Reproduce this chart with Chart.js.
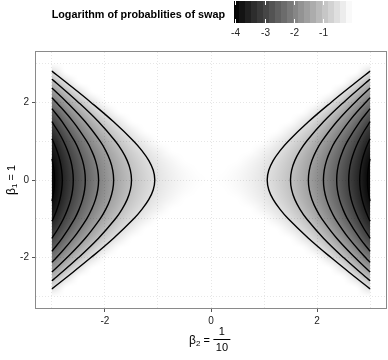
<!DOCTYPE html>
<html>
<head>
<meta charset="utf-8">
<script src="https://cdn.jsdelivr.net/npm/chart.js@4.4.0/dist/chart.umd.min.js"></script>
<style>
  html, body { margin: 0; padding: 0; background: #fff; }
</style>
</head>
<body>
<canvas id="chart" width="388" height="360"></canvas>
<script>
// axes
const xTicks = [-2, 0, 2];
const yTicks = [-2, 0, 2];
const gridLines = [-3, -2, -1, 0, 1, 2, 3];
const legendTicks = [-4, -3, -2, -1];
const shadeRange = [-4.05, 0];

// contour levels, each given as the right half-branch (y >= 0)
const contourLevels = [-0.5, -1, -1.5, -2, -2.5, -3, -3.5, -4];
const contourHalves = [
  [[1.060, 0], [1.089, 0.25], [1.172, 0.5], [1.299, 0.75], [1.457, 1], [1.837, 1.5], [2.264, 2], [2.716, 2.5], [3, 2.806]],
  [[1.499, 0], [1.520, 0.25], [1.580, 0.5], [1.676, 0.75], [1.802, 1], [2.121, 1.5], [2.499, 2], [2.915, 2.5], [3, 2.599]],
  [[1.836, 0], [1.853, 0.25], [1.903, 0.5], [1.983, 0.75], [2.091, 1], [2.371, 1.5], [2.715, 2], [3, 2.373]],
  [[2.120, 0], [2.135, 0.25], [2.178, 0.5], [2.249, 0.75], [2.344, 1], [2.597, 1.5], [2.914, 2], [3, 2.123]],
  [[2.370, 0], [2.383, 0.25], [2.422, 0.5], [2.486, 0.75], [2.573, 1], [2.805, 1.5], [3, 1.839]],
  [[2.597, 0], [2.609, 0.25], [2.644, 0.5], [2.703, 0.75], [2.782, 1], [2.882, 1.25], [3, 1.503]],
  [[2.804, 0], [2.816, 0.25], [2.849, 0.5], [2.903, 0.75], [2.977, 1], [3, 1.065]],
  [[2.950, 0], [2.960, 0.25], [2.992, 0.5], [3, 0.548]]
];

// log swap probability, one quadrant: rows y = 0..3, cols x = 0..3 (step 0.25)
const gridNodes = [0, 0.25, 0.5, 0.75, 1, 1.25, 1.5, 1.75, 2, 2.25, 2.5, 2.75, 3];
const logSwap = [
  [0, -0.03, -0.11, -0.25, -0.45, -0.70, -1.00, -1.36, -1.78, -2.25, -2.78, -3.37, -4.01],
  [0, 0, -0.08, -0.22, -0.42, -0.67, -0.97, -1.33, -1.75, -2.22, -2.75, -3.34, -3.98],
  [0, 0, 0, -0.14, -0.34, -0.59, -0.89, -1.25, -1.67, -2.14, -2.67, -3.26, -3.90],
  [0, 0, 0, 0, -0.20, -0.45, -0.75, -1.11, -1.53, -2.00, -2.53, -3.12, -3.76],
  [0, 0, 0, 0, 0, -0.25, -0.55, -0.91, -1.33, -1.80, -2.33, -2.92, -3.56],
  [0, 0, 0, 0, 0, 0, -0.30, -0.66, -1.08, -1.55, -2.08, -2.67, -3.31],
  [0, 0, 0, 0, 0, 0, 0, -0.36, -0.78, -1.25, -1.78, -2.37, -3.01],
  [0, 0, 0, 0, 0, 0, 0, 0, -0.42, -0.89, -1.42, -2.01, -2.65],
  [0, 0, 0, 0, 0, 0, 0, 0, 0, -0.47, -1.00, -1.59, -2.23],
  [0, 0, 0, 0, 0, 0, 0, 0, 0, 0, -0.53, -1.12, -1.76],
  [0, 0, 0, 0, 0, 0, 0, 0, 0, 0, 0, -0.59, -1.23],
  [0, 0, 0, 0, 0, 0, 0, 0, 0, 0, 0, 0, -0.64],
  [0, 0, 0, 0, 0, 0, 0, 0, 0, 0, 0, 0, 0]
];

const FONT = "'Liberation Sans', Arial, Helvetica, sans-serif";

// build both branches of every contour from the half curves
const datasets = [];
contourHalves.forEach((half, k) => {
  const lower = half.slice().reverse().map(p => ({x: p[0], y: -p[1]}));
  const upper = half.slice(1).map(p => ({x: p[0], y: p[1]}));
  const right = lower.concat(upper);
  const left = right.map(p => ({x: -p.x, y: p.y}));
  [right, left].forEach(pts => {
    datasets.push({
      label: 'level ' + contourLevels[k],
      data: pts,
      showLine: true,
      borderColor: '#000',
      borderWidth: 1.4,
      pointRadius: 0,
      tension: 0.4,
      fill: false
    });
  });
});

// shade value -> alpha of black
function shadeAlpha(v) {
  return Math.max(0, Math.min(1, (shadeRange[1] - v) / (shadeRange[1] - shadeRange[0])));
}

// heat map, drawn under the contour lines
const heatPlugin = {
  id: 'heat',
  beforeDatasetsDraw(chart) {
    const n = gridNodes.length;
    const size = 2 * n - 1;
    const off = document.createElement('canvas');
    off.width = size; off.height = size;
    const octx = off.getContext('2d');
    const img = octx.createImageData(size, size);
    for (let r = 0; r < size; r++) {
      const j = Math.abs(r - (n - 1));
      for (let c = 0; c < size; c++) {
        const i = Math.abs(c - (n - 1));
        const a = shadeAlpha(logSwap[j][i]);
        const idx = (r * size + c) * 4;
        img.data[idx] = 0; img.data[idx + 1] = 0; img.data[idx + 2] = 0;
        img.data[idx + 3] = Math.round(a * 255);
      }
    }
    octx.putImageData(img, 0, 0);

    const xs = chart.scales.x, ys = chart.scales.y;
    const step = gridNodes[1] - gridNodes[0];
    const last = gridNodes[n - 1];
    const x0 = xs.getPixelForValue(-last - step / 2), x1 = xs.getPixelForValue(last + step / 2);
    const y0 = ys.getPixelForValue(last + step / 2), y1 = ys.getPixelForValue(-last - step / 2);
    const cx0 = xs.getPixelForValue(-last), cx1 = xs.getPixelForValue(last);
    const cy0 = ys.getPixelForValue(last), cy1 = ys.getPixelForValue(-last);
    const ctx = chart.ctx;
    ctx.save();
    ctx.beginPath();
    ctx.rect(cx0, cy0, cx1 - cx0, cy1 - cy0);
    ctx.clip();
    ctx.imageSmoothingEnabled = true;
    ctx.imageSmoothingQuality = 'high';
    ctx.drawImage(off, x0, y0, x1 - x0, y1 - y0);
    ctx.restore();
  }
};

function drawParts(ctx, parts, x, y) {
  parts.forEach(p => {
    ctx.font = p.size + 'px ' + FONT;
    ctx.fillText(p.t, x, y + (p.dy || 0));
    x += ctx.measureText(p.t).width;
  });
  return x;
}
function partsWidth(ctx, parts) {
  let w = 0;
  parts.forEach(p => {
    ctx.font = p.size + 'px ' + FONT;
    w += ctx.measureText(p.t).width;
  });
  return w;
}

// panel frame, axis titles and colour bar legend
const decorPlugin = {
  id: 'decor',
  afterDatasetsDraw(chart) {
    const ca = chart.chartArea, ctx = chart.ctx;
    ctx.save();
    ctx.strokeStyle = '#8a8a8a';
    ctx.lineWidth = 1;
    ctx.strokeRect(ca.left - 0.5, ca.top - 0.5, ca.right - ca.left + 1, ca.bottom - ca.top + 1);
    ctx.restore();
  },
  afterDraw(chart) {
    const ctx = chart.ctx;
    ctx.save();
    ctx.fillStyle = '#000';
    ctx.textBaseline = 'middle';
    ctx.textAlign = 'left';

    // x title: beta_2 = 1/10
    const midX = chart.scales.x.getPixelForValue(0);
    let x = drawParts(ctx, [
      {t: 'β', size: 12},
      {t: '2', size: 8, dy: 3},
      {t: ' = ', size: 11}
    ], midX - 22, 341);
    ctx.font = '11px ' + FONT;
    ctx.textAlign = 'center';
    const fx = x + 9;
    ctx.fillText('1', fx, 332);
    ctx.fillText('10', fx, 348);
    ctx.beginPath();
    ctx.moveTo(fx - 8.5, 339.5);
    ctx.lineTo(fx + 8.5, 339.5);
    ctx.lineWidth = 1;
    ctx.strokeStyle = '#000';
    ctx.stroke();

    // y title: beta_1 = 1
    const midY = chart.scales.y.getPixelForValue(0);
    const yParts = [
      {t: 'β', size: 12},
      {t: '1', size: 8, dy: 3},
      {t: ' = 1', size: 11}
    ];
    ctx.translate(12, midY);
    ctx.rotate(-Math.PI / 2);
    ctx.textAlign = 'left';
    drawParts(ctx, yParts, -partsWidth(ctx, yParts) / 2, 0);
    ctx.setTransform(1, 0, 0, 1, 0, 0);

    // legend colour bar
    const barL = 234, barR = 352, barT = 1, barB = 23;
    const nbin = 20;
    const span = shadeRange[1] - shadeRange[0];
    for (let b = 0; b < nbin; b++) {
      const v = shadeRange[0] + (b + 0.5) * span / nbin;
      const a = shadeAlpha(v);
      const g = Math.round(255 * (1 - a));
      ctx.fillStyle = 'rgb(' + g + ',' + g + ',' + g + ')';
      const bx0 = barL + b * (barR - barL) / nbin;
      const bx1 = barL + (b + 1) * (barR - barL) / nbin;
      ctx.fillRect(Math.floor(bx0), barT, Math.ceil(bx1) - Math.floor(bx0), barB - barT);
    }
    ctx.strokeStyle = '#fff';
    ctx.lineWidth = 1;
    ctx.fillStyle = '#222';
    ctx.font = '10px ' + FONT;
    ctx.textAlign = 'center';
    legendTicks.forEach(t => {
      const tx = Math.round(barL + (t - shadeRange[0]) / span * (barR - barL)) + 0.5;
      ctx.beginPath();
      ctx.moveTo(tx, barT); ctx.lineTo(tx, barT + 4);
      ctx.moveTo(tx, barB - 4); ctx.lineTo(tx, barB);
      ctx.stroke();
      ctx.fillText(String(t), tx, 33);
    });
    ctx.fillStyle = '#000';
    ctx.font = 'bold 10.8px ' + FONT;
    ctx.textAlign = 'right';
    ctx.fillText('Logarithm of probablities of swap', 225, 15);
    ctx.restore();
  }
};

function axisOptions(labels, fit) {
  return {
    type: 'linear',
    min: -3.3,
    max: 3.3,
    afterBuildTicks: s => { s.ticks = gridLines.map(v => ({value: v})); },
    afterFit: fit,
    ticks: {
      autoSkip: false,
      maxRotation: 0,
      padding: 3,
      color: '#222',
      font: {size: 10, family: FONT},
      callback: v => labels.includes(v) ? String(v) : ''
    },
    grid: {
      color: '#e6e6e6',
      lineWidth: 1,
      drawTicks: true,
      tickLength: 4,
      tickColor: ctx => (ctx.tick && labels.includes(ctx.tick.value)) ? '#555' : 'rgba(0,0,0,0)'
    },
    border: { display: false, dash: [1, 2] }
  };
}

new Chart(document.getElementById('chart'), {
  type: 'scatter',
  data: { datasets: datasets },
  options: {
    responsive: false,
    animation: false,
    devicePixelRatio: 1,
    events: [],
    layout: { padding: { top: 52, right: 2, left: 0, bottom: 0 } },
    plugins: {
      legend: { display: false },
      tooltip: { enabled: false }
    },
    scales: {
      x: axisOptions(xTicks, s => { s.height = 52; }),
      y: axisOptions(yTicks, s => { s.width = 36; })
    }
  },
  plugins: [heatPlugin, decorPlugin]
});
</script>
</body>
</html>
